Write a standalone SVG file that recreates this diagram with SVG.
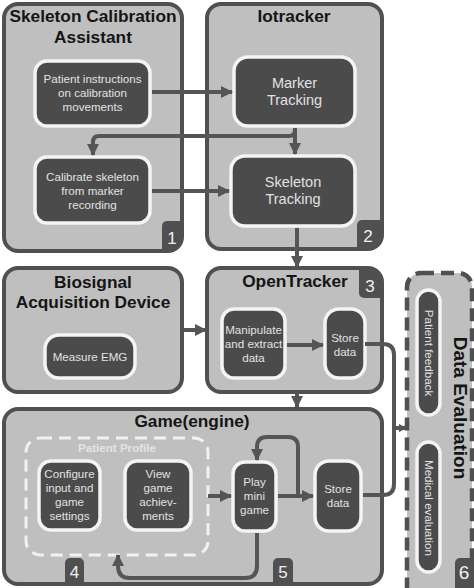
<svg xmlns="http://www.w3.org/2000/svg" width="474" height="588" viewBox="0 0 474 588">
<defs>
<style>
.box{fill:#bfbfbf;stroke:#505050;stroke-width:4}
.dbox{fill:#bfbfbf;stroke:#505050;stroke-width:4.5;stroke-dasharray:13 7}
.prof{fill:none;stroke:#f2f2f2;stroke-width:3;stroke-dasharray:12 7}
.node{fill:#4b4b4b;stroke:#f4f4f4;stroke-width:3.5}
.badge{fill:#505050}
.title{font-family:"Liberation Sans",Arial,sans-serif;font-weight:bold;font-size:17.3px;fill:#151515;text-anchor:middle}
.nt{font-family:"Liberation Sans",Arial,sans-serif;font-size:11.6px;fill:#e2e2e2;text-anchor:middle}
.nt2{font-family:"Liberation Sans",Arial,sans-serif;font-size:14.5px;fill:#e2e2e2;text-anchor:middle}
.num{font-family:"Liberation Sans",Arial,sans-serif;font-size:17px;fill:#f0f0f0;text-anchor:middle}
.plabel{font-family:"Liberation Sans",Arial,sans-serif;font-weight:bold;font-size:11.6px;fill:#e4e4e4;text-anchor:middle}
.conn{fill:none;stroke:#555555;stroke-width:4;stroke-linejoin:round}
</style>
<marker id="ah" markerUnits="userSpaceOnUse" markerWidth="12" markerHeight="12" refX="11" refY="6" orient="auto">
<path d="M0,0 L12,6 L0,12 Z" fill="#555555"/>
</marker>
<marker id="ahs" markerUnits="userSpaceOnUse" markerWidth="8" markerHeight="8" refX="7" refY="4" orient="auto">
<path d="M0,0 L8,4 L0,8 Z" fill="#555555"/>
</marker>
</defs>
<rect width="474" height="588" fill="#ffffff"/>

<g id="box1">
<rect class="box" x="4" y="4" width="178" height="247" rx="14"/>
<path class="badge" d="M162,251 V226 A5,5 0 0 1 167,221 H182 V237 A14,14 0 0 1 168,251 Z"/>
<text class="num" x="172" y="244">1</text>
<text class="title" x="93" y="22">Skeleton Calibration</text>
<text class="title" x="93" y="43">Assistant</text>
</g>
<g id="box2">
<rect class="box" x="207" y="4" width="175" height="245" rx="14"/>
<path class="badge" d="M357,249 V225 A5,5 0 0 1 362,220 H382 V235 A14,14 0 0 1 368,249 Z"/>
<text class="num" x="368" y="242">2</text>
<text class="title" x="294" y="22">Iotracker</text>
</g>
<g id="box-bio">
<rect class="box" x="4" y="268" width="178" height="124" rx="14"/>
<text class="title" x="93" y="288">Biosignal</text>
<text class="title" x="93" y="308">Acquisition Device</text>
</g>
<g id="box3">
<rect class="box" x="207" y="268" width="175" height="124" rx="14"/>
<path class="badge" d="M359,268 H368 A14,14 0 0 1 382,282 V298 H364 A5,5 0 0 1 359,293 Z"/>
<text class="num" x="370" y="292">3</text>
<text class="title" x="295" y="287">OpenTracker</text>
</g>
<g id="box-game">
<rect class="box" x="4" y="409" width="378" height="175" rx="14"/>
<path class="badge" d="M65,584 V563 A5,5 0 0 1 70,558 H79 A5,5 0 0 1 84,563 V584 Z"/>
<text class="num" x="74.5" y="578">4</text>
<path class="badge" d="M273,584 V563 A5,5 0 0 1 278,558 H288 A5,5 0 0 1 293,563 V584 Z"/>
<text class="num" x="283" y="578">5</text>
<text class="title" x="192" y="427">Game(engine)</text>
</g>
<g id="profile">
<rect class="prof" x="26" y="438" width="182" height="117" rx="14"/>
<text class="plabel" x="117" y="452">Patient Profile</text>
</g>
<g id="box6">
<rect class="dbox" x="407" y="273" width="65" height="330" rx="14"/>
<path class="badge" d="M455,600 V563 A5,5 0 0 1 460,558 H476 V600 Z"/>
<text class="num" x="464" y="579" style="font-size:19px">6</text>
<text class="title" transform="translate(454,408) rotate(90)" x="0" y="0" style="font-size:19px">Data Evaluation</text>
</g>

<g id="n-patient-instr">
<rect class="node" x="35" y="61" width="115" height="65" rx="12"/>
<text class="nt" x="92.5" y="83">Patient instructions</text>
<text class="nt" x="92.5" y="97">on calibration</text>
<text class="nt" x="92.5" y="111">movements</text>
</g>
<g id="n-calibrate">
<rect class="node" x="35" y="157" width="115" height="66" rx="12"/>
<text class="nt" x="92.5" y="181">Calibrate skeleton</text>
<text class="nt" x="92.5" y="195">from marker</text>
<text class="nt" x="92.5" y="209">recording</text>
</g>
<g id="n-marker">
<rect class="node" x="234" y="57" width="121" height="69" rx="14"/>
<text class="nt2" x="294.5" y="88">Marker</text>
<text class="nt2" x="294.5" y="105">Tracking</text>
</g>
<g id="n-skeleton">
<rect class="node" x="231" y="156" width="124" height="70" rx="14"/>
<text class="nt2" x="293" y="187">Skeleton</text>
<text class="nt2" x="293" y="204">Tracking</text>
</g>
<g id="n-emg">
<rect class="node" x="45" y="335" width="90" height="43" rx="14"/>
<text class="nt" x="90" y="361">Measure EMG</text>
</g>
<g id="n-manipulate">
<rect class="node" x="222" y="309" width="63" height="69" rx="12"/>
<text class="nt" x="253.5" y="334">Manipulate</text>
<text class="nt" x="253.5" y="348">and extract</text>
<text class="nt" x="253.5" y="362">data</text>
</g>
<g id="n-store-ot">
<rect class="node" x="325" y="309" width="40" height="69" rx="14"/>
<text class="nt" x="345" y="342">Store</text>
<text class="nt" x="345" y="356">data</text>
</g>
<g id="n-configure">
<rect class="node" x="39" y="461" width="61" height="69" rx="12"/>
<text class="nt" x="69.5" y="478">Configure</text>
<text class="nt" x="69.5" y="492">input and</text>
<text class="nt" x="69.5" y="506">game</text>
<text class="nt" x="69.5" y="520">settings</text>
</g>
<g id="n-view">
<rect class="node" x="125" y="461" width="66" height="69" rx="12"/>
<text class="nt" x="158" y="478">View</text>
<text class="nt" x="158" y="492">game</text>
<text class="nt" x="158" y="506">achiev-</text>
<text class="nt" x="158" y="520">ments</text>
</g>
<g id="n-play">
<rect class="node" x="233" y="462" width="43" height="69" rx="12"/>
<text class="nt" x="254.5" y="486">Play</text>
<text class="nt" x="254.5" y="500">mini</text>
<text class="nt" x="254.5" y="514">game</text>
</g>
<g id="n-store-game">
<rect class="node" x="315" y="461" width="46" height="70" rx="14"/>
<text class="nt" x="338" y="493">Store</text>
<text class="nt" x="338" y="507">data</text>
</g>
<g id="n-feedback">
<rect class="node" x="417" y="290" width="23" height="125" rx="11.5"/>
<text class="nt" transform="translate(424.5,353) rotate(90)" x="0" y="0">Patient feedback</text>
</g>
<g id="n-medical">
<rect class="node" x="417" y="442" width="23" height="130" rx="11.5"/>
<text class="nt" transform="translate(424.5,508) rotate(90)" x="0" y="0">Medical evaluation</text>
</g>

<g id="connectors">
<path class="conn" d="M152,92 H232" marker-end="url(#ah)"/>
<path class="conn" d="M295,128 V154" marker-end="url(#ah)"/>
<path class="conn" d="M295,128 V130 Q295,136 289,136 H99 Q93,136 93,142 V155" marker-end="url(#ah)"/>
<path class="conn" d="M152,191 H229" marker-end="url(#ah)"/>
<path class="conn" d="M297,228 V267" marker-end="url(#ah)"/>
<path class="conn" d="M184,330 H206" marker-end="url(#ah)"/>
<path class="conn" d="M287,345 H323" marker-end="url(#ah)"/>
<path class="conn" d="M297,393 V407" marker-end="url(#ah)"/>
<path class="conn" d="M208,496 H231" marker-end="url(#ah)"/>
<path class="conn" d="M278,496 H313" marker-end="url(#ah)"/>
<path class="conn" d="M298,496 V447 Q298,437 288,437 H267 Q257,437 257,447 V460" marker-end="url(#ah)"/>
<path class="conn" d="M257,533 V566 Q257,578 245,578 H130 Q118,578 118,566 V555" marker-end="url(#ah)"/>
<path class="conn" d="M365,344 H383 Q394,344 394,355 V484 Q394,495 383,495 H363"/>
<path class="conn" d="M394,428 H406" marker-end="url(#ahs)"/>
</g>
</svg>
